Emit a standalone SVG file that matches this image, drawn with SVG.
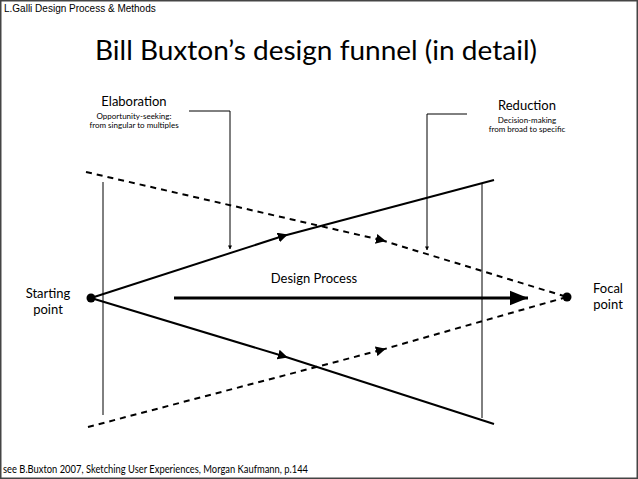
<svg xmlns="http://www.w3.org/2000/svg" width="638" height="479" viewBox="0 0 638 479">
<style>
text{font-family:"Lato","Liberation Sans",sans-serif;fill:#000}
.s{stroke:#000;fill:none}
</style>
<defs>
<marker id="a" viewBox="0 0 10 10" refX="5" refY="5" markerWidth="5" markerHeight="5" orient="auto"><path d="M0,0L10,5L0,10z"/></marker>
<marker id="t" viewBox="0 0 10 10" refX="10" refY="5" markerWidth="6" markerHeight="6" orient="auto"><path d="M0,1L10,5L0,9z"/></marker>
<marker id="b" viewBox="0 0 10 10" refX="9" refY="5" markerWidth="4" markerHeight="4" orient="auto"><path d="M0,0L10,5L0,10z"/></marker>
</defs>
<rect x="0.75" y="0.75" width="636.5" height="477.5" fill="#fff" stroke="#444" stroke-width="1.5"/>
<text x="4" y="12" font-size="10" style="font-family:'Liberation Sans',sans-serif">L.Galli Design Process &amp; Methods</text>
<text x="95" y="60" font-size="26" textLength="442" lengthAdjust="spacingAndGlyphs">Bill Buxton’s design funnel (in detail)</text>
<g id="elaboration"><text x="134" y="106" font-size="13" text-anchor="middle">Elaboration</text>
<text x="134" y="119" font-size="8" text-anchor="middle">Opportunity-seeking:</text>
<text x="134" y="128" font-size="8" text-anchor="middle">from singular to multiples</text></g>
<g id="reduction"><text x="527" y="110" font-size="13" text-anchor="middle">Reduction</text>
<text x="527" y="123" font-size="8" text-anchor="middle">Decision-making</text>
<text x="527" y="132" font-size="8" text-anchor="middle">from broad to specific</text></g>
<g id="start"><circle cx="91" cy="298" r="4.5"/><text x="48" y="298" font-size="13" text-anchor="middle">Starting</text><text x="48" y="314" font-size="13" text-anchor="middle">point</text></g>
<g id="focal"><circle cx="567" cy="297" r="4.5"/><text x="608" y="293" font-size="13" text-anchor="middle">Focal</text><text x="608" y="309" font-size="13" text-anchor="middle">point</text></g>
<g id="process"><text x="314" y="283" font-size="13" text-anchor="middle">Design Process</text></g>
<g id="connectors">
<path class="s" stroke-width="2" d="M91,298L283,236" marker-end="url(#a)"/>
<path class="s" stroke-width="2" d="M283,236L494,180"/>
<path class="s" stroke-width="2" d="M91,298L283,356" marker-end="url(#a)"/>
<path class="s" stroke-width="2" d="M283,356L494,424"/>
<path class="s" stroke-width="2" stroke-dasharray="6,5" d="M86,172L381,240" marker-end="url(#a)"/>
<path class="s" stroke-width="2" stroke-dasharray="6,5" d="M381,240L567,297"/>
<path class="s" stroke-width="2" stroke-dasharray="6,5" d="M88,427L381,350" marker-end="url(#a)"/>
<path class="s" stroke-width="2" stroke-dasharray="6,5" d="M381,350L567,297"/>
<path class="s" stroke-width="3" d="M174,298L528,298" marker-end="url(#t)"/>
<path class="s" d="M103,182V415M482,183V418"/>
<path class="s" d="M189,111H230V249" marker-end="url(#b)"/>
<path class="s" d="M467,114H427V250" marker-end="url(#b)"/>
</g>
<text x="3" y="473" font-size="11.5" textLength="305" lengthAdjust="spacingAndGlyphs">see B.Buxton 2007, Sketching User Experiences, Morgan Kaufmann, p.144</text>
</svg>
